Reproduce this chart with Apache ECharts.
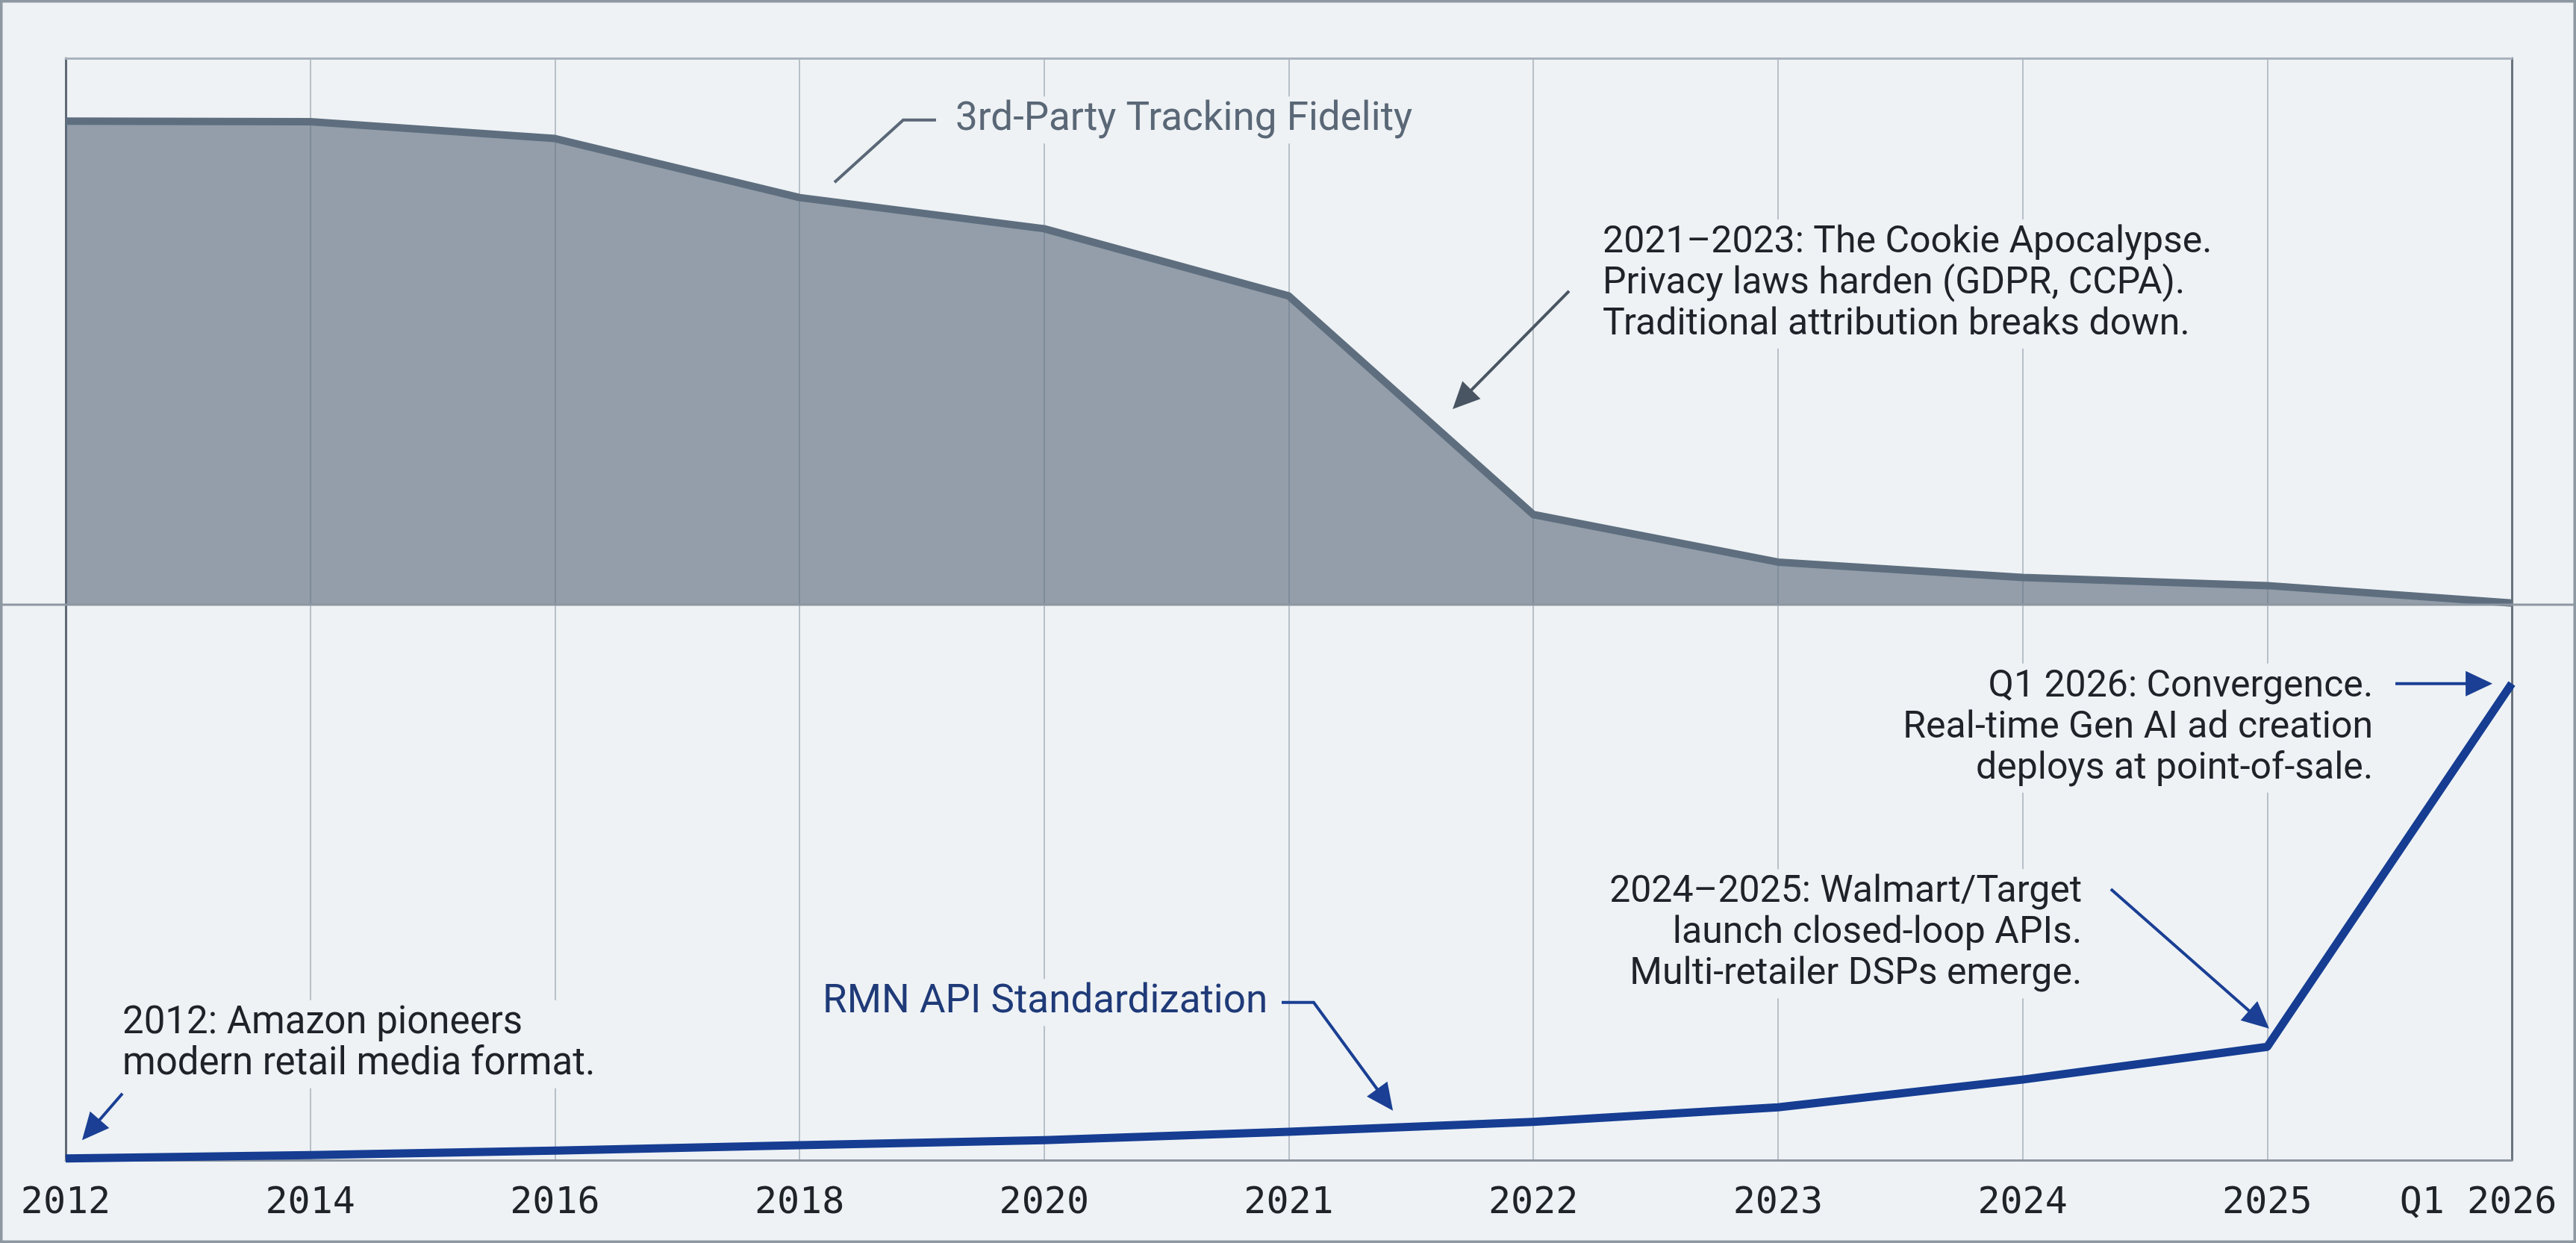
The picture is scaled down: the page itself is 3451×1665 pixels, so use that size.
<!DOCTYPE html>
<html>
<head>
<meta charset="utf-8">
<script src="https://cdn.jsdelivr.net/npm/echarts@6/dist/echarts.min.js"></script>
<style>
html,body{margin:0;padding:0;background:#eef2f5;}
#chart{width:3451px;height:1665px;}
</style>
</head>
<body>
<div id="chart"></div>
<script>
// ---- data ----
const categories = ['2012','2014','2016','2018','2020','2021','2022','2023','2024','2025','Q1 2026'];
const trackingFidelity = [88.5, 88.4, 85.3, 74.5, 68.8, 56.5, 16.5, 7.8, 5.0, 3.5, 0.3];
const rmnApi = [0.3, 0.9, 1.7, 2.7, 3.6, 5.1, 6.9, 9.5, 14.5, 20.4, 85.8];

// annotations in data coordinates: [category index (fractional), value]
const topNotes = [
  {text: '3rd-Party Tracking Fidelity', at: [3.613, 88.7], align: 'left', vAlign: 'middle', color: '#5a6776', size: 53},
  {text: '2021\u20132023: The Cookie Apocalypse.\nPrivacy laws harden (GDPR, CCPA).\nTraditional attribution breaks down.', at: [6.259, 70.5], align: 'left', vAlign: 'top', color: '#1f2329', size: 50}
];
const topLeaders = [
  {pts: [[3.558, 88.7], [3.424, 88.7], [3.143, 77.3]], arrow: false, color: '#5a6776'},
  {pts: [[6.146, 57.4], [5.670, 35.8]], arrow: true, color: '#4a5563'}
];
const bottomNotes = [
  {text: '2012: Amazon pioneers\nmodern retail media format.', at: [0.2075, 28.8], align: 'left', vAlign: 'top', color: '#1f2329', size: 51},
  {text: 'RMN API Standardization', at: [3.070, 28.4], align: 'left', vAlign: 'middle', color: '#1f3a78', size: 53},
  {text: '2024\u20132025: Walmart/Target\nlaunch closed-loop APIs.\nMulti-retailer DSPs emerge.', at: [8.267, 52.4], align: 'right', vAlign: 'top', color: '#1f2329', size: 50},
  {text: 'Q1 2026: Convergence.\nReal-time Gen AI ad creation\ndeploys at point-of-sale.', at: [9.457, 89.4], align: 'right', vAlign: 'top', color: '#1f2329', size: 50}
];
const bottomLeaders = [
  {pts: [[0.232, 12.0], [0.067, 3.6]], arrow: true, color: '#1a3f94'},
  {pts: [[4.971, 28.4], [5.102, 28.4], [5.426, 8.9]], arrow: true, color: '#1a3f94'},
  {pts: [[8.361, 48.8], [9.008, 23.7]], arrow: true, color: '#1a3f94'},
  {pts: [[9.524, 85.8], [9.921, 85.8]], arrow: true, color: '#1a3f94'}
];

const BG = '#eef2f5';
const W = 3451, H = 1665;
const chart = echarts.init(document.getElementById('chart'), null, {renderer: 'canvas'});

const splitLine = {show: true, lineStyle: {color: '#b8c0c8', width: 2}};
const hiddenY = {
  type: 'value', min: 0, max: 100,
  axisLabel: {show: false}, axisTick: {show: false}, splitLine: {show: false}
};

chart.setOption({
  backgroundColor: BG,
  animation: false,
  grid: [
    {left: 88, right: 86, top: 78, height: 732},
    {left: 88, right: 86, top: 810, height: 744}
  ],
  xAxis: [
    {
      gridIndex: 0, type: 'category', data: categories, boundaryGap: false, position: 'top',
      axisLine: {show: true, onZero: false, lineStyle: {color: '#aab3bc', width: 3}},
      axisTick: {show: false}, axisLabel: {show: false}, splitLine: Object.assign({interval: 0}, splitLine)
    },
    {
      gridIndex: 1, type: 'category', data: categories, boundaryGap: false, position: 'bottom',
      axisLine: {show: true, onZero: false, lineStyle: {color: '#8c959e', width: 3}},
      axisTick: {show: false}, splitLine: Object.assign({interval: 0}, splitLine),
      axisLabel: {
        show: true, interval: 0, margin: 33, color: '#1f2429',
        fontFamily: 'DejaVu Sans Mono', fontSize: 50,
        formatter: function (v) { return v === 'Q1 2026' ? '{last|' + v + '}' : v; },
        rich: {last: {fontFamily: 'DejaVu Sans Mono', fontSize: 50, color: '#1f2429', padding: [0, 90, 0, 0]}}
      }
    }
  ],
  yAxis: [
    Object.assign({gridIndex: 0, position: 'left', axisLine: {show: true, lineStyle: {color: '#5f6973', width: 3}}}, hiddenY),
    Object.assign({gridIndex: 1, position: 'left', axisLine: {show: true, lineStyle: {color: '#5f6973', width: 3}}}, hiddenY),
    Object.assign({gridIndex: 0, position: 'right', axisLine: {show: true, lineStyle: {color: '#6a747e', width: 3}}}, hiddenY),
    Object.assign({gridIndex: 1, position: 'right', axisLine: {show: true, lineStyle: {color: '#6a747e', width: 3}}}, hiddenY)
  ],
  series: [
    {
      name: '3rd-Party Tracking Fidelity', type: 'line', xAxisIndex: 0, yAxisIndex: 0,
      data: trackingFidelity, symbol: 'none',
      lineStyle: {color: '#5e6e7e', width: 10, join: 'round'},
      areaStyle: {color: '#5e6e7e', opacity: 0.63}
    },
    {
      name: 'RMN API Standardization', type: 'line', xAxisIndex: 1, yAxisIndex: 1,
      data: rmnApi, symbol: 'none',
      lineStyle: {color: '#163d92', width: 11, join: 'round'}
    }
  ]
});

function px(g, idx, val) {
  const i0 = Math.max(0, Math.min(categories.length - 2, Math.floor(idx)));
  const a = chart.convertToPixel({xAxisIndex: g}, i0);
  const b = chart.convertToPixel({xAxisIndex: g}, i0 + 1);
  const x = a + (b - a) * (idx - i0);
  const y = chart.convertToPixel({yAxisIndex: g}, val);
  return [x, y];
}

const graphics = [];

function addNotes(g, notes) {
  notes.forEach(n => {
    const p = px(g, n.at[0], n.at[1]);
    graphics.push({
      type: 'text', z: 100,
      style: {
        text: n.text, x: p[0], y: p[1], font: n.size + 'px Roboto', fill: n.color,
        align: n.align, verticalAlign: n.vAlign, lineHeight: 55,
        backgroundColor: BG, padding: [4, 8]
      }
    });
  });
}
function addLeaders(g, leaders) {
  leaders.forEach(l => {
    const pts = l.pts.map(q => px(g, q[0], q[1]));
    const lw = 4;
    if (l.arrow) {
      const e = pts[pts.length - 1], s = pts[pts.length - 2];
      let dx = e[0] - s[0], dy = e[1] - s[1];
      const len = Math.sqrt(dx * dx + dy * dy); dx /= len; dy /= len;
      const L = 36, Wd = 17;
      const bx = e[0] - dx * L, by = e[1] - dy * L;
      const nx = -dy, ny = dx;
      pts[pts.length - 1] = [bx + dx * 4, by + dy * 4];
      graphics.push({
        type: 'polygon', z: 101,
        shape: {points: [[e[0], e[1]], [bx + nx * Wd, by + ny * Wd], [bx - nx * Wd, by - ny * Wd]]},
        style: {fill: l.color}
      });
    }
    graphics.push({
      type: 'polyline', z: 101,
      shape: {points: pts},
      style: {stroke: l.color, lineWidth: lw, fill: null}
    });
  });
}
addNotes(0, topNotes);
addLeaders(0, topLeaders);
addNotes(1, bottomNotes);
addLeaders(1, bottomLeaders);

// divider across the full width at the top panel's zero line
const yDiv = chart.convertToPixel({yAxisIndex: 0}, 0);
graphics.push({
  type: 'line', z: 50,
  shape: {x1: 0, y1: yDiv, x2: W, y2: yDiv},
  style: {stroke: '#8d97a1', lineWidth: 3}
});
// outer frame
graphics.push({
  type: 'rect', z: 120,
  shape: {x: 1.5, y: 1.5, width: W - 3, height: H - 3},
  style: {fill: null, stroke: '#8e98a2', lineWidth: 4}
});

chart.setOption({graphic: graphics});
</script>
</body>
</html>
